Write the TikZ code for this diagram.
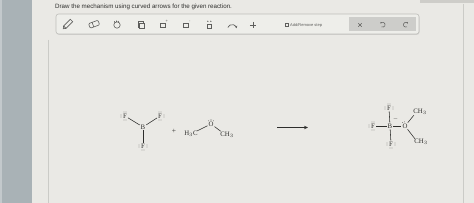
\documentclass[tikz,border=0pt]{standalone}
\usepackage{fontspec}
\setmainfont{Liberation Serif}
\newfontfamily\uifont{Liberation Sans}
\usetikzlibrary{calc,arrows.meta}
\definecolor{page}{HTML}{EAE9E5}
\definecolor{strip}{HTML}{A9B2B6}
\definecolor{ink}{HTML}{2E2E2C}
\definecolor{icon}{HTML}{5E5E5C}
\definecolor{barfill}{HTML}{EEEEEA}
\definecolor{barline}{HTML}{BEBEBA}
\definecolor{graybox}{HTML}{CDCDCA}
\newcommand\LPr[2]{\fill[ink] ($(#1)+(#2:4pt)+(#2+90:1pt)$) circle (0.38pt) ($(#1)+(#2:4pt)+(#2-90:1pt)$) circle (0.38pt);}
\tikzset{
  atom/.style={font=\fontsize{6.8}{7}\selectfont, inner sep=0.6pt, text=ink},
  bond/.style={draw=ink, line width=0.55pt, shorten <=0.3pt, shorten >=0.3pt},
  ui/.style={font=\uifont\fontsize{6.2}{6.5}\selectfont, text=ink, inner sep=0pt},
  ico/.style={draw=icon, line width=0.6pt},
}
\begin{document}
\begin{tikzpicture}[x=1pt,y=-1pt]
\useasboundingbox (0,0) rectangle (474,203);
% background
\fill[page] (0,0) rectangle (474,203);
\fill[strip] (0,0) rectangle (32,203);
\fill[strip!70!white] (0,0) rectangle (2,203);
\draw[barline!70!page, line width=0.4pt] (48,40) -- (48,203);
\draw[barline!70!page, line width=0.4pt] (463,4) -- (463,203);
\fill[page!88!black] (420,0) rectangle (474,3);
% title
\node[ui, anchor=base west] (title) at (55,8.5) {Draw the mechanism using curved arrows for the given reaction.};
% toolbar
\fill[barline!50!page, rounded corners=2.5pt] (56.5,14.8) rectangle (419.5,34.8);
\draw[barline, fill=barfill, rounded corners=2.5pt, line width=0.6pt] (56,14) rectangle (419,34);
\fill[graybox] (349,17) rectangle (416,31);
% pencil
\draw[ico, rotate around={45:(68,24)}] (63.5,22.3) rectangle (73,25.7) (63.5,22.3) -- (61.3,24) -- (63.5,25.7);
% eraser
\draw[ico, rounded corners=1pt, rotate around={20:(94,24)}] (89,21.8) rectangle (99,26.7) (92.8,21.8) -- (92.8,26.7);
% lasso hand
\draw[ico] (117,25) circle (3.2pt);
\draw[ico] (114.3,21.2) -- (114.9,22.8) (116.5,20.6) -- (116.5,22.2) (118.7,21) -- (118.4,22.5);
% copy
\draw[ico] (137.8,21.8) rectangle (143,27);
\draw[ico, fill=barfill] (139.4,23.4) rectangle (144.6,28.6);
% square plus
\draw[ico] (160,23) rectangle (164.8,27.8);
\node[ui, font=\uifont\fontsize{4}{4}\selectfont, text=icon] (sqp) at (166.8,21.5) {+};
% square minus
\draw[ico] (183,23) rectangle (187.8,27.8);
\node[ui, font=\uifont\fontsize{4}{4}\selectfont, text=icon] (sqm) at (189.8,21.5) {-};
% ring-like
\draw[ico] (207,24) rectangle (211.6,28.4);
\fill[icon] (207.8,21.3) circle (0.7pt) (210.8,21.3) circle (0.7pt);
% curved arrow
\draw[ico, line width=0.7pt, -{Stealth[length=2.3pt,width=2.4pt]}] (227.8,27.5) arc (160:10:4.5pt);
% plus
\draw[ico] (249.8,25) -- (256.2,25) (253,21.8) -- (253,28.2);
% add/remove step
\draw[ico, line width=0.45pt] (285,23.2) rectangle (288.2,26.6);
\node[ui, font=\uifont\fontsize{4}{4}\selectfont, text=icon, anchor=west] (addstep) at (290,25) {Add/Remove step};
% X, undo, redo
\draw[ico] (358.3,23.3) -- (361.7,26.7) (358.3,26.7) -- (361.7,23.3);
\draw[ico, line width=0.5pt, -{Stealth[length=1.4pt,width=1.6pt]}] (381.5,26.8) arc (-120:150:2.4pt);
\draw[ico, line width=0.5pt, -{Stealth[length=1.4pt,width=1.6pt]}] (407,26.8) arc (-60:-330:2.4pt);

% ---- BF3 ----
\node[atom] (b1) at (143,127) {B};
\node[atom] (f1) at (125,116) {F};
\node[atom] (f2) at (160,116) {F};
\node[atom] (f3) at (143,146) {F};
\draw[bond] (b1) -- (f1);
\draw[bond] (b1) -- (f2);
\draw[bond] (b1) -- (f3);
\LPr{f1}{180}\LPr{f1}{90}\LPr{f1}{270}
\LPr{f2}{0}\LPr{f2}{90}\LPr{f2}{270}
\LPr{f3}{0}\LPr{f3}{180}\LPr{f3}{270}
\node[atom, font=\fontsize{7.5}{8}\selectfont] (plus) at (174,131.5) {+};
% ---- dimethyl ether ----
\node[atom] (c1) at (191,134) {H$_3$C};
\node[atom] (o1) at (211,124) {O};
\node[atom] (c2) at (227,134.5) {CH$_3$};
\draw[bond] (c1.north east) ++(-1.5,0.5) -- (o1);
\draw[bond] (o1) -- ($(c2.north west)+(1.5,0.5)$);
\LPr{o1}{65}\LPr{o1}{115}
% ---- reaction arrow ----
\coordinate (a0) at (277,127.5);
\coordinate (a1) at (308,127.5);
\draw[ink, line width=0.75pt, -{Stealth[length=4pt,width=3.4pt]}] (a0) -- (a1);
% ---- adduct ----
\node[atom] (b2) at (390,126) {B};
\node[atom] (g1) at (373,126) {F};
\node[atom] (g2) at (389,108) {F};
\node[atom] (g3) at (391,144) {F};
\node[atom] (o2) at (405,126) {O};
\node[atom] (m1) at (420,112) {CH$_3$};
\node[atom] (m2) at (421,142) {CH$_3$};
\draw[bond] (b2) -- (g1);
\draw[bond] (b2) -- (g2);
\draw[bond] (b2) -- (g3);
\draw[bond] (b2) -- (o2);
\draw[bond] (o2) -- ($(m1.south west)+(1.5,-0.5)$);
\draw[bond] (o2) -- ($(m2.north west)+(1.5,0.5)$);
\LPr{g1}{90}\LPr{g1}{270}\LPr{g1}{180}
\LPr{g2}{0}\LPr{g2}{180}\LPr{g2}{90}
\LPr{g3}{0}\LPr{g3}{180}\LPr{g3}{270}
\LPr{o2}{110}
\node[atom, font=\fontsize{5}{5}\selectfont] (chg) at (395.5,119) {$-$};
\end{tikzpicture}
\end{document}
